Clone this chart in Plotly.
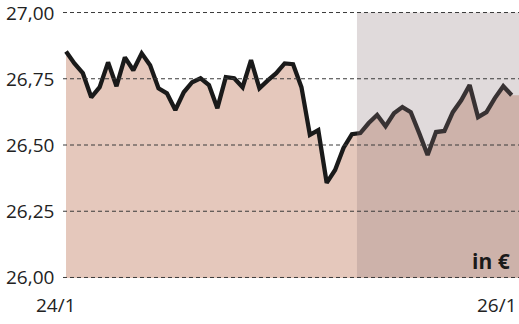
import plotly.graph_objects as go

# Data
prices = [26.853, 26.808, 26.771, 26.680, 26.718, 26.812, 26.722, 26.831, 26.782, 26.846,
          26.801, 26.714, 26.695, 26.632, 26.699, 26.737, 26.752, 26.726, 26.639, 26.756,
          26.752, 26.718, 26.820, 26.714, 26.744, 26.771, 26.808, 26.805, 26.718, 26.538,
          26.556, 26.357, 26.406, 26.489, 26.541, 26.545, 26.583, 26.613, 26.571, 26.620,
          26.643, 26.624, 26.545, 26.462, 26.549, 26.553, 26.624, 26.669, 26.726, 26.605,
          26.624, 26.677, 26.722, 26.688]
idx = list(range(len(prices)))
shade_start = 34.6          # start of the shaded (after-hours) period, in sample index
y_ticks = [26.00, 26.25, 26.50, 26.75, 27.00]
y_tick_text = ["26,00", "26,25", "26,50", "26,75", "27,00"]
x_labels = ["24/1", "26/1"]
unit_label = "in €"

x_range = [-0.36, 53.87]
y_range = [25.998, 27.002]

fig = go.Figure()
# filled area (extended to the plot's right edge at the last value)
fig.add_trace(go.Scatter(x=idx + [x_range[1]], y=prices + [prices[-1]], mode="lines",
                         line=dict(width=0, color="rgb(229,200,188)"),
                         fill="tozeroy", fillcolor="rgb(229,200,188)", hoverinfo="skip"))
fig.add_trace(go.Scatter(x=idx, y=prices, mode="lines",
                         line=dict(width=4.3, color="#1a1a1a"), hoverinfo="skip"))

shapes = [dict(type="rect", xref="x", yref="y", x0=shade_start, x1=x_range[1],
               y0=y_ticks[0], y1=y_ticks[-1], layer="above", line=dict(width=0),
               fillcolor="rgba(140,118,121,0.27)")]
for t in y_ticks:
    shapes.append(dict(type="line", xref="paper", yref="y", x0=0, x1=1, y0=t, y1=t,
                       layer="above", line=dict(color="#3a3a3a", width=1, dash="4px,3px")))

font_lbl = dict(family="Open Sans", size=19, color="#222")
annotations = []
for t, txt in zip(y_ticks, y_tick_text):
    annotations.append(dict(text=txt, xref="paper", yref="y", x=0, y=t, xshift=-7,
                            xanchor="right", yanchor="middle", showarrow=False,
                            font=font_lbl))
annotations += [
    dict(text=x_labels[0], xref="paper", yref="paper", x=-0.015, y=0, yshift=-12,
         xanchor="center", yanchor="top", showarrow=False, font=font_lbl),
    dict(text=x_labels[1], xref="paper", yref="paper", x=0.9995, y=0, yshift=-12,
         xanchor="right", yanchor="top", showarrow=False, font=font_lbl),
    dict(text="<b>" + unit_label + "</b>", xref="paper", yref="y", x=0.984, y=26.0,
         yshift=0, xanchor="right", yanchor="bottom", showarrow=False,
         font=dict(family="Open Sans", size=21, color="#1a1a1a")),
]

fig.update_layout(
    width=519, height=324, margin=dict(l=63, r=0, t=12, b=46),
    paper_bgcolor="white", plot_bgcolor="white", showlegend=False,
    shapes=shapes, annotations=annotations,
    xaxis=dict(range=x_range, showgrid=False, zeroline=False, showticklabels=False,
               showline=False, fixedrange=True),
    yaxis=dict(range=y_range, showgrid=False, zeroline=False, showline=False,
               showticklabels=False, ticks="", fixedrange=True),
)
fig.write_html("out.html")
